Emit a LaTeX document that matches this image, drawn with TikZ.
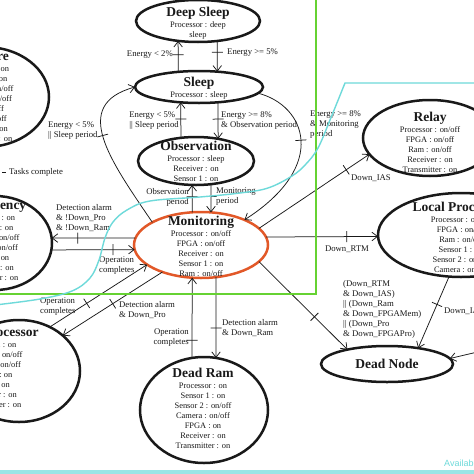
\documentclass[tikz,border=0pt]{standalone}
\usepackage{fontspec}
\setmainfont{Liberation Serif}
\newfontfamily\rgfont{Liberation Sans}
\usetikzlibrary{arrows.meta,decorations.markings,shapes.geometric}
\definecolor{monor}{RGB}{226,88,40}
\definecolor{grn}{RGB}{102,210,50}
\definecolor{cyn}{RGB}{110,218,218}
\definecolor{ink}{RGB}{25,25,25}
\tikzset{
 st/.style={ellipse, draw=ink, line width=2.5pt, inner sep=0pt, outer sep=0pt},
 sttxt/.style={align=center, inner sep=0pt, font=\fontsize{8.4}{10}\selectfont, text=ink},
 lbl/.style={inner sep=0pt, font=\fontsize{8.7}{10}\selectfont, text=ink},
 conn/.style={draw=ink, line width=0.75pt, -{Straight Barb[length=5.5pt,width=8.5pt]}},
 tickat/.style={postaction={decorate, decoration={markings, mark=at position #1 with {\draw[ink, line width=0.75pt, -] (0pt,-5.5pt) -- (0pt,5.5pt);}}}},
}
\newcommand{\ttl}[1]{{\fontsize{13.5}{15}\selectfont\bfseries #1}}
\begin{document}
\begin{tikzpicture}[x=1pt,y=-1pt]
\useasboundingbox (0,0) rectangle (474,474);
\fill[white] (0,0) rectangle (474,474);
\clip (0,0) rectangle (474,474);

% states
\node[st, minimum width=124pt, minimum height=42pt] (ds) at (198,21) {};
\node[sttxt] (dst) at (198,23) {\ttl{Deep Sleep}\\[1pt]Processor : deep\\sleep};
\node[st, minimum width=128pt, minimum height=32pt] (sl) at (199,87) {};
\node[sttxt] (slt) at (199,88) {\ttl{Sleep}\\[1pt]Processor : sleep};
\node[st, minimum width=116pt, minimum height=48pt] (ob) at (196,161) {};
\node[sttxt] (obt) at (196,161) {\ttl{Observation}\\[1pt]Processor : sleep\\Receiver : on\\Sensor 1 : on};
\node[st, draw=monor, minimum width=134pt, minimum height=66pt] (mo) at (201,245) {};
\node[sttxt] (mot) at (201,246) {\ttl{Monitoring}\\[1pt]Processor : on/off\\FPGA : on/off\\Receiver : on\\Sensor 1 : on\\Ram : on/off};
\node[st, minimum width=134pt, minimum height=76pt] (re) at (430,138) {};
\node[sttxt] (ret) at (430,142) {\ttl{Relay}\\[1pt]Processor : on/off\\FPGA : on/off\\Ram : on/off\\Receiver : on\\Transmitter : on};
\node[st, minimum width=166pt, minimum height=84pt] (lp) at (461,235) {};
\node[sttxt] (lpt) at (461,237) {\ttl{Local Processing}\\[1pt]Processor : on/off\\FPGA : on/off\\Ram : on/off\\Sensor 1 : on\\Sensor 2 : on/off\\Camera : on/off};
\node[st, minimum width=132pt, minimum height=36pt] (dn) at (387,364) {};
\node[sttxt] (dnt) at (387,364) {\ttl{Dead Node}};
\node[st, minimum width=128pt, minimum height=106pt] (dr) at (204,410) {};
\node[sttxt] (drt) at (203,408) {\ttl{Dead Ram}\\[1pt]Processor : on\\Sensor 1 : on\\Sensor 2 : on/off\\Camera : on/off\\FPGA : on\\Receiver : on\\Transmitter : on};
\node[st, minimum width=122pt, minimum height=102pt] (dp) at (19,371) {};
\node[sttxt] (dpt) at (-6,367) {\ttl{Dead Processor}\\[1pt]Sensor 1 : on\\Sensor 2 : on/off\\Camera : on/off\\FPGA : on\\Ram : on\\Receiver : on\\Transmitter : on};
\node[st, minimum width=114pt, minimum height=94pt] (de) at (-5,243) {};
\node[sttxt] (det) at (-9,240) {\ttl{Dependency}\\[1pt]Processor : on\\Sensor 1 : on\\Sensor 2 : on/off\\Camera : on/off\\FPGA : on\\Receiver : on\\Transmitter : on};
\node[st, minimum width=128pt, minimum height=100pt] (tl) at (-15,97) {};
\node[sttxt] (tlt) at (-15,97) {\ttl{Capture}\\[1pt]Processor : on\\Sensor 1 : on\\Sensor 2 : on/off\\Camera : on/off\\FPGA : off\\Ram : on/off\\Receiver : on\\Transmitter : on};

% vertical transitions
\draw[conn, tickat=0.55] (sl.144) -- (ds.-135);
\node[lbl, anchor=east] (l1) at (173,55) {Energy < 2\%};
\draw[conn, tickat=0.37] (ds.-46) -- (sl.40);
\node[lbl, anchor=west] (l2) at (227,53) {Energy >= 5\%};
\draw[conn, tickat=0.53] (ob.123) -- (sl.-140);
\node[lbl, anchor=east, align=left] (l3) at (179,121) {Energy < 5\%\\|| Sleep period};
\draw[conn, tickat=0.46] (sl.-39) -- (ob.45);
\node[lbl, anchor=west, align=left] (l4) at (221,121) {Energy >= 8\%\\\& Observation period};
\draw[conn, tickat=0.57] (mo.105) -- (ob.-99);
\node[lbl, anchor=east, align=right] (l5) at (189,197) {Observation\\period};
\draw[conn, tickat=0.44] (ob.-57) -- (mo.73);
\node[lbl, anchor=west, align=left] (l6) at (216,197) {Monitoring\\period};

% curves
\draw[conn, tickat=0.6] (mo.155) .. controls (110,160) and (70,105) .. (sl.west);
\node[lbl, anchor=west, align=left] (l7) at (48,131) {Energy < 5\%\\|| Sleep period};
\draw[conn, tickat=0.4] (sl.-6) .. controls (305,105) and (330,165) .. (mo.30);
\node[lbl, anchor=west, align=left] (l8) at (310,125) {Energy >= 8\%\\\& Monitoring\\period};

% right side
\draw[conn, tickat=0.79] (mo.16) -- (re.-165);
\node[lbl, anchor=west] (l9) at (351,178) {Down\_IAS};
\draw[conn, tickat=0.72] (mo.7) -- (lp.-179);
\node[lbl] (l10) at (347,249) {Down\_RTM};
\draw[conn, tickat=0.63] (mo.-16) -- (dn.160);
\node[lbl, anchor=west, align=left] (l11) at (343,309) {(Down\_RTM\\\& Down\_IAS)\\|| (Down\_Ram\\\& Down\_FPGAMem)\\|| (Down\_Pro\\\& Down\_FPGAPro)};
\draw[conn, tickat=0.39] (lp.-106) -- (dn.27);
\node[lbl, anchor=west] (l12) at (444,311) {Down\_IAS};
\coordinate (offr) at (520,342);
\draw[conn] (offr) -- (dn.5);

% left side
\draw[conn, tickat=0.69] (mo.174) -- (de.5);
\node[lbl, anchor=west, align=left] (l13) at (56,218) {Detection alarm\\\& !Down\_Pro\\\& !Down\_Ram};
\draw[conn, tickat=0.74] (de.-7) -- (mo.-176);
\node[lbl, anchor=west, align=left] (l14) at (99,266) {Operation\\completes};
\draw[conn, tickat=0.38] (dp.55) -- (mo.-160);
\node[lbl, anchor=west, align=left] (l15) at (40,307) {Operation\\completes};
\draw[conn, tickat=0.5] (mo.-145) -- (dp.39);
\node[lbl, anchor=west, align=left] (l16) at (119,310) {Detection alarm\\\& Down\_Pro};

% bottom
\draw[conn, tickat=0.22] (dr.103) -- (mo.-105);
\node[lbl, anchor=east, align=right] (l17) at (189,338) {Operation\\completes};
\draw[conn, tickat=0.63] (mo.-65) -- (dr.77);
\node[lbl, anchor=west, align=left] (l18) at (222,328) {Detection alarm\\\& Down\_Ram};

% tasks complete
\coordinate (tcA) at (2,172);
\coordinate (tcB) at (6,172);
\draw[ink, line width=0.75pt] (tcA) -- (tcB);
\node[lbl, anchor=west] (l19) at (9,172) {Tasks complete};

% overlays
\draw[grn, line width=2.2pt] (316,-5) -- (316,294) -- (-5,294);
\draw[cyn, line width=1.4pt] plot[smooth, tension=0.6] coordinates {(-5,305) (40,299) (72,291) (90,278) (99,260) (105,238) (113,222) (127,210) (150,201) (200,197) (240,193) (268,188) (292,176) (306,164) (318,148) (330,120) (345,83)} -- (480,83);
\fill[cyn!70] (0,470) rectangle (474,474);
\node[anchor=west, inner sep=0pt, text=cyn, font=\rgfont\fontsize{9}{10}\selectfont] (avl) at (444,463) {Available via license};
\end{tikzpicture}
\end{document}
